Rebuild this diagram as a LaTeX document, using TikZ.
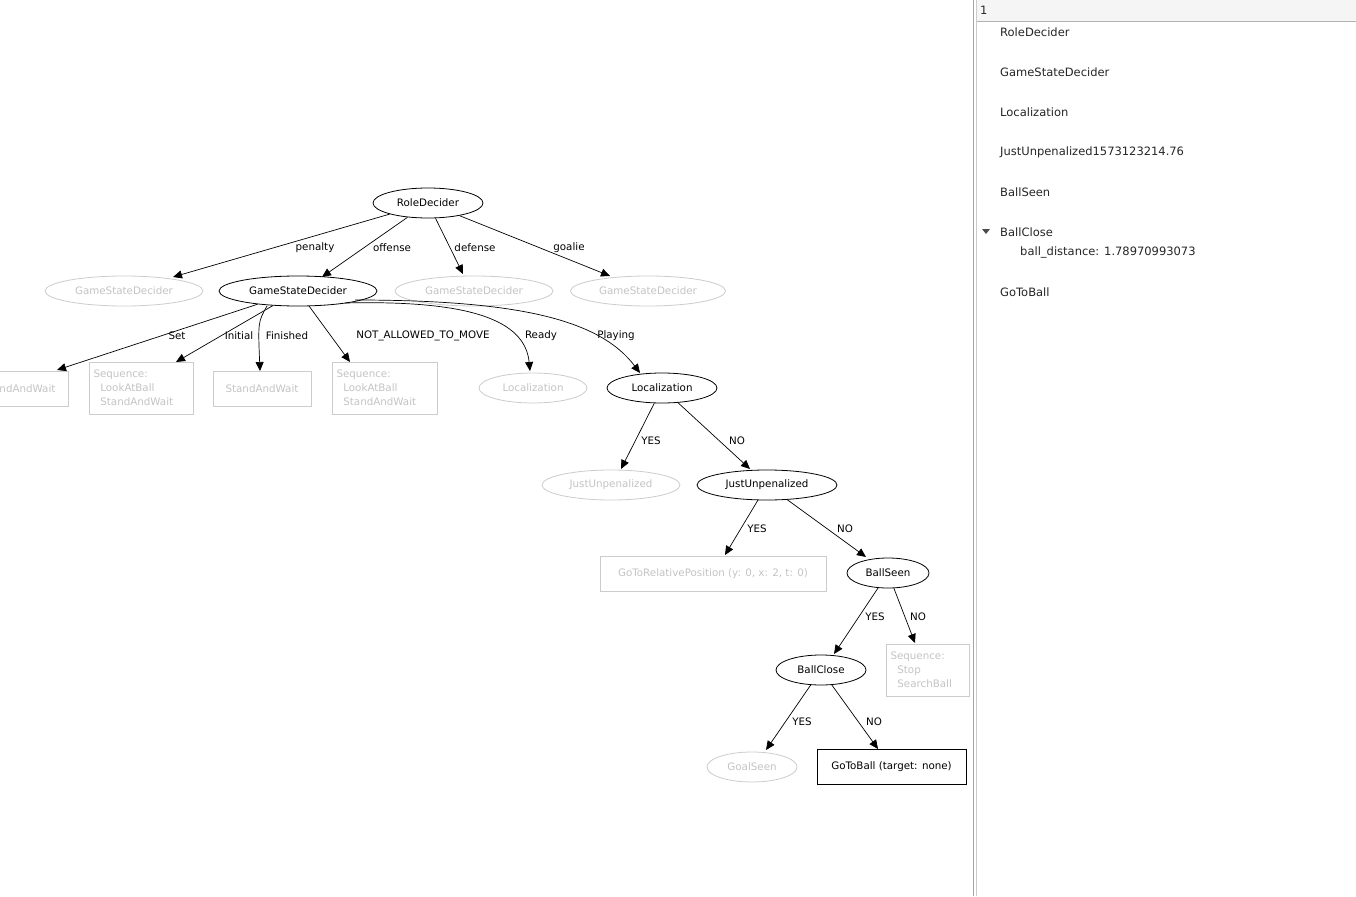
\documentclass[tikz,border=0pt]{standalone}
\usepackage{fontspec}
\setmainfont{DejaVu Sans}
\usetikzlibrary{shapes.geometric,arrows.meta}
\definecolor{gr}{HTML}{CCCCCC}
\definecolor{gt}{HTML}{C4C4C4}
\tikzset{
 el/.style={draw,ellipse,inner sep=0pt,minimum height=30pt,font=\fontsize{10.3}{11.5}\selectfont,line width=0.8pt},
 gel/.style={el,draw=gr,text=gt},
 bx/.style={draw,rectangle,inner sep=0pt,font=\fontsize{10.3}{14}\selectfont,line width=0.8pt},
 gbx/.style={bx,draw=gr,text=gt,align=left},
 ed/.style={-{Triangle[length=9pt,width=8pt]},line width=0.7pt},
 lb/.style={font=\fontsize{10.3}{11.5}\selectfont,inner sep=1pt},
 it/.style={anchor=west,font=\fontsize{11.5}{13}\selectfont,text=black!85,inner sep=0pt}
}
\begin{document}
\begin{tikzpicture}[x=1pt,y=-1pt]
\useasboundingbox (0,0) rectangle (1356,896);
\fill[white] (0,0) rectangle (1356,896);
\begin{scope}
\clip (0,0) rectangle (972,896);
\node[el,minimum width=110pt] (rd) at (428,203) {RoleDecider};
\node[gel,minimum width=158pt] (g1) at (124,291) {GameStateDecider};
\node[el,minimum width=158pt] (g2) at (298,291) {GameStateDecider};
\node[gel,minimum width=158pt] (g3) at (474,291) {GameStateDecider};
\node[gel,minimum width=155pt] (g4) at (648,291) {GameStateDecider};
\node[gbx,minimum width=98pt,minimum height=35pt,align=center] (b1) at (19,388.5) {StandAndWait};
\node[gbx,minimum width=104pt,minimum height=52pt,text width=95pt] (b2) at (141,388) {Sequence:\\\ \ LookAtBall\\\ \ StandAndWait};
\node[gbx,minimum width=98pt,minimum height=35pt,align=center] (b3) at (262,388.5) {StandAndWait};
\node[gbx,minimum width=105pt,minimum height=52pt,text width=96pt] (b4) at (384.5,388) {Sequence:\\\ \ LookAtBall\\\ \ StandAndWait};
\node[gel,minimum width=108pt] (l1) at (533,388) {Localization};
\node[el,minimum width=110pt] (l2) at (662,388) {Localization};
\node[gel,minimum width=138pt] (j1) at (611,485) {JustUnpenalized};
\node[el,minimum width=140pt] (j2) at (767,485) {JustUnpenalized};
\node[gbx,minimum width=226pt,minimum height=35pt] (gr) at (713,573.5) {GoToRelativePosition (y: 0, x: 2, t: 0)};
\node[el,minimum width=82pt] (bs) at (888,573) {BallSeen};
\node[gbx,minimum width=83pt,minimum height=52pt,text width=74pt] (sq) at (927.5,670) {Sequence:\\\ \ Stop\\\ \ SearchBall};
\node[el,minimum width=90pt] (bc) at (821,670) {BallClose};
\node[gel,minimum width=90pt] (gs) at (752,767) {GoalSeen};
\node[bx,minimum width=149pt,minimum height=35pt] (gb) at (891.5,766.5) {GoToBall (target: none)};

\coordinate (t1) at (173,277); \coordinate (t2) at (322,277);
\coordinate (t3) at (463,274); \coordinate (t4) at (610,276);
\coordinate (t5) at (57,370); \coordinate (t6) at (176,362);
\coordinate (t7) at (260,371); \coordinate (t8) at (350,362);
\coordinate (t9) at (530,371); \coordinate (t10) at (640,373);
\coordinate (t11) at (621,469); \coordinate (t12) at (750,469);
\coordinate (t13) at (725,555); \coordinate (t14) at (866,557);
\coordinate (t15) at (834,654); \coordinate (t16) at (915,643);
\coordinate (t17) at (766,750); \coordinate (t18) at (878,749);

\draw[ed] (rd) -- (t1);
\draw[ed] (rd) -- (t2);
\draw[ed] (rd) -- (t3);
\draw[ed] (rd) -- (t4);
\draw[ed] (g2) -- (t5);
\draw[ed] (g2) -- (t6);
\draw[ed] (267,306) .. controls (258,322) .. (t7);
\draw[ed] (g2) -- (t8);
\draw[ed] (345,303) .. controls (470,300) and (525,320) .. (t9);
\draw[ed] (355,300) .. controls (520,300) and (600,320) .. (t10);
\draw[ed] (l2) -- (t11);
\draw[ed] (l2) -- (t12);
\draw[ed] (j2) -- (t13);
\draw[ed] (j2) -- (t14);
\draw[ed] (bs) -- (t15);
\draw[ed] (bs) -- (t16);
\draw[ed] (bc) -- (t17);
\draw[ed] (bc) -- (t18);
\node[lb] (e1) at (315,248) {penalty};
\node[lb] (e2) at (392,248) {offense};
\node[lb] (e3) at (475,248) {defense};
\node[lb] (e4) at (569,248) {goalie};
\node[lb] (e5) at (177,336) {Set};
\node[lb] (e6) at (239,336) {Initial};
\node[lb] (e7) at (287,336) {Finished};
\node[lb] (e8) at (423,336) {NOT\_ALLOWED\_TO\_MOVE};
\node[lb] (e9) at (541,336) {Ready};
\node[lb] (e10) at (616,336) {Playing};
\node[lb] (e11) at (651,441) {YES};
\node[lb] (e12) at (737,441) {NO};
\node[lb] (e13) at (757,529) {YES};
\node[lb] (e14) at (845,529) {NO};
\node[lb] (e15) at (875,617) {YES};
\node[lb] (e16) at (918,617) {NO};
\node[lb] (e17) at (802,722) {YES};
\node[lb] (e18) at (874,722) {NO};
\end{scope}
% right panel
\fill[gray!8] (976,0) rectangle (1356,21);
\draw[gray!60] (976,21.5) -- (1356,21.5);
\draw[gray!70,line width=1pt] (973.5,0) -- (973.5,896);
\draw[gray!40,line width=1pt] (976.5,0) -- (976.5,896);
\node[it] (n1) at (980,10) {1};
\node[it] (i1) at (1000,32) {RoleDecider};
\node[it] (i2) at (1000,72) {GameStateDecider};
\node[it] (i3) at (1000,112) {Localization};
\node[it] (i4) at (1000,152) {JustUnpenalized1573123214.76};
\node[it] (i5) at (1000,192) {BallSeen};
\node[it] (i6) at (1000,232) {BallClose};
\node[it] (i7) at (1020,252) {ball\_distance: 1.78970993073};
\node[it] (i8) at (1000,292) {GoToBall};
\fill[black!70] (982,229) -- (990,229) -- (986,234) -- cycle;
\end{tikzpicture}
\end{document}
